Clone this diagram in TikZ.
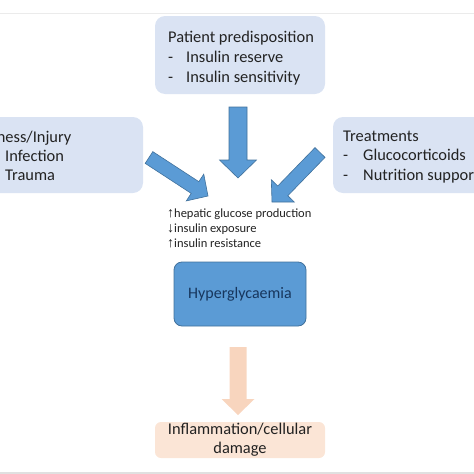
\documentclass[tikz,border=0pt]{standalone}
\usepackage{fontspec}
\setmainfont{Carlito}
\newfontfamily\arrowfont{Liberation Sans}
\usetikzlibrary{calc}
\definecolor{boxblue}{HTML}{DAE3F3}
\definecolor{midblue}{HTML}{5B9BD5}
\definecolor{edgeblue}{HTML}{41719C}
\definecolor{peach}{HTML}{FBE5D6}
\definecolor{peacharrow}{HTML}{F8D5BE}
\definecolor{txt}{HTML}{222222}
\definecolor{navy}{HTML}{17365D}
\definecolor{frameline}{HTML}{EBEBEB}
\newcommand{\blockarr}[6]{%
  \coordinate (#1-h) at ($(#2)!#5!(#1)$);
  \draw[#6] ($(#1)!#3!90:(#2)$) -- ($(#1-h)!#3!90:(#2)$) -- ($(#1-h)!#4!90:(#2)$)
    -- (#2) -- ($(#1-h)!#4!-90:(#2)$) -- ($(#1-h)!#3!-90:(#2)$) -- ($(#1)!#3!-90:(#2)$) -- cycle;
}
\begin{document}
\begin{tikzpicture}[x=1pt,y=-1pt,
  lbox/.style={fill=boxblue, draw=none, rounded corners=10pt, inner sep=0pt},
  hbox/.style={fill=midblue, draw=edgeblue, line width=0.8pt, rounded corners=8pt, inner sep=0pt},
  pbox/.style={fill=peach, draw=none, rounded corners=6pt, inner sep=0pt},
  btxt/.style={anchor=base west, inner sep=0pt, text=txt, font=\fontsize{16.4}{19}\selectfont},
  mtxt/.style={anchor=base west, inner sep=0pt, text=txt, font=\fontsize{12.5}{15}\selectfont},
  barrowblue/.style={fill=midblue, draw=edgeblue, line width=0.6pt, line join=miter},
  barrowpeach/.style={fill=peacharrow, draw=none}]
\useasboundingbox (0,0) rectangle (474,474);
\clip (0,0) rectangle (474,474);
% frame lines
\fill[frameline] (0,12.5) rectangle (474,13.5);
\fill[frameline!90!gray] (0,472) rectangle (474,474);
% boxes
\node[lbox, minimum width=170pt, minimum height=78pt] (top) at (240,55) {};
\node[lbox, minimum width=173pt, minimum height=76pt] (left) at (56.5,155) {};
\node[lbox, minimum width=177pt, minimum height=76pt] (right) at (421.5,155) {};
\node[hbox, minimum width=132pt, minimum height=64pt, text=navy,
      font=\fontsize{16}{19}\selectfont] (hyper) at (240,294) {Hyperglycaemia};
\node[pbox, minimum width=170pt, minimum height=36pt] (bottom) at (240,440) {};
% top box text
\node[btxt] (t1) at (168,42) {Patient predisposition};
\node[btxt] (t2) at (168,62) {-};
\node[btxt] (t2b) at (186,62) {Insulin reserve};
\node[btxt] (t3) at (168,82) {-};
\node[btxt] (t3b) at (186,82) {Insulin sensitivity};
% left box text
\node[btxt] (l1) at (-15,142) {Illness/Injury};
\node[btxt] (l2) at (-15,161) {-};
\node[btxt] (l2b) at (5,161) {Infection};
\node[btxt] (l3) at (-15,180) {-};
\node[btxt] (l3b) at (5,180) {Trauma};
% right box text
\node[btxt] (r1) at (343,141) {Treatments};
\node[btxt] (r2) at (343,160) {-};
\node[btxt] (r2b) at (363,160) {Glucocorticoids};
\node[btxt] (r3) at (343,180) {-};
\node[btxt] (r3b) at (363,180) {Nutrition support};
% middle text
\node[mtxt] (m1) at (167,217) {{\arrowfont\fontsize{14}{15}\selectfont ↑}hepatic glucose production};
\node[mtxt] (m2) at (167,232) {{\arrowfont\fontsize{14}{15}\selectfont ↓}insulin exposure};
\node[mtxt] (m3) at (167,247) {{\arrowfont\fontsize{14}{15}\selectfont ↑}insulin resistance};
% bottom text
\node[anchor=base, inner sep=0pt, text=txt, font=\fontsize{16.4}{19}\selectfont] (b1) at (240,434) {Inflammation/cellular};
\node[anchor=base, inner sep=0pt, text=txt, font=\fontsize{16.4}{19}\selectfont] (b2) at (240,453) {damage};
% block arrows
\coordinate (ca) at (238,107);
\coordinate (cb) at (238,178);
\blockarr{ca}{cb}{9pt}{18.5pt}{18pt}{barrowblue}
\coordinate (la) at (149,157.5);
\coordinate (lb) at (208,196);
\blockarr{la}{lb}{7pt}{16pt}{15.5pt}{barrowblue}
\coordinate (ra) at (320,152.5);
\coordinate (rb) at (272,202);
\blockarr{ra}{rb}{7pt}{16pt}{15.5pt}{barrowblue}
\coordinate (pa) at (238,347);
\coordinate (pb) at (238,415);
\blockarr{pa}{pb}{8.5pt}{16.5pt}{16pt}{barrowpeach}
\end{tikzpicture}
\end{document}
